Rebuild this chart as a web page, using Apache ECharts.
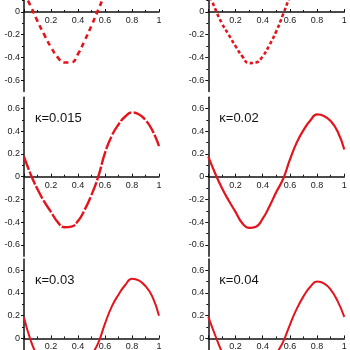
<!DOCTYPE html>
<html>
<head>
<meta charset="utf-8">
<script src="https://cdn.jsdelivr.net/npm/echarts@6/dist/echarts.min.js"></script>
<style>
  html, body { margin: 0; padding: 0; background: #fff; }
  #chart-container { width: 350px; height: 350px; }
</style>
</head>
<body>
<div id="chart-container"></div>
<script>
const xValues = [0, 0.05, 0.1, 0.15, 0.2, 0.25, 0.3, 0.35, 0.4, 0.45, 0.5,
  0.55, 0.6, 0.65, 0.7, 0.75, 0.8, 0.85, 0.9, 0.95, 1];

const kappaLabels = ["κ=0.005", "κ=0.01", "κ=0.015", "κ=0.02", "κ=0.03", "κ=0.04"];

const yK005 = [0.17, 0.05, -0.08, -0.2, -0.31, -0.4, -0.445, -0.445, -0.37, -0.25, -0.12,
  0.02, 0.16, 0.3, 0.42, 0.52, 0.57, 0.55, 0.48, 0.39, 0.28];
const yK01 = [0.18, 0.03, -0.1, -0.2, -0.3, -0.39, -0.45, -0.445, -0.39, -0.29, -0.17,
  -0.02, 0.14, 0.3, 0.43, 0.52, 0.56, 0.54, 0.47, 0.37, 0.26];
const yK015 = [0.176, 0.02, -0.11, -0.22, -0.31, -0.4, -0.445, -0.44, -0.39, -0.29, -0.16,
  0.0, 0.21, 0.36, 0.46, 0.53, 0.565, 0.55, 0.5, 0.41, 0.27];
const yK02 = [0.176, 0.03, -0.1, -0.21, -0.31, -0.41, -0.45, -0.44, -0.37, -0.26, -0.135,
  -0.02, 0.15, 0.3, 0.41, 0.495, 0.548, 0.535, 0.49, 0.4, 0.24];
const yK03 = [0.185, -0.02, -0.16, -0.27, -0.36, -0.42, -0.445, -0.43, -0.37, -0.27, -0.15,
  -0.04, 0.13, 0.28, 0.385, 0.47, 0.525, 0.51, 0.46, 0.37, 0.2];
const yK04 = [0.19, 0.03, -0.12, -0.25, -0.35, -0.41, -0.44, -0.43, -0.37, -0.27, -0.14,
  -0.03, 0.12, 0.26, 0.37, 0.455, 0.5, 0.485, 0.43, 0.33, 0.19];

const yTickLabels = [-0.6, -0.4, -0.2, 0, 0.2, 0.4, 0.6];
const yMinorTicks = [-0.5, -0.3, -0.1, 0.1, 0.3, 0.5];
const xTickLabels = [0.2, 0.4, 0.6, 0.8, 1];

(() => {
  var dom = document.getElementById("chart-container");
  var chart = echarts.init(dom, null, { renderer: "canvas" });

  const red = "#e3141c";
  const axisColor = "#111";
  const labelFont = { fontSize: 9, color: "#222", fontFamily: "Liberation Sans, Arial, sans-serif" };

  // panel layout: 2 columns x 3 rows, top row partly above the picture
  const colLeft = [24, 208.3];
  const colWidth = [135, 136];
  const rowTop = [-67.5, 97.2, 258.9];
  const rowHeight = 159;
  const yMin = -0.7, yMax = 0.7;

  const panels = [
    { ys: yK005, col: 0, row: 0, dash: [5, 4], width: 2.6 },
    { ys: yK01, col: 1, row: 0, dash: [3.5, 2.5], width: 2.6 },
    { ys: yK015, col: 0, row: 1, dash: [14, 2], width: 2.4 },
    { ys: yK02, col: 1, row: 1, dash: "solid", width: 2.2 },
    { ys: yK03, col: 0, row: 2, dash: "solid", width: 2 },
    { ys: yK04, col: 1, row: 2, dash: "solid", width: 2 },
  ];

  const grid = [], xAxis = [], yAxis = [], series = [], title = [];

  panels.forEach((p, i) => {
    grid.push({
      left: colLeft[p.col],
      width: colWidth[p.col],
      top: rowTop[p.row],
      height: rowHeight,
      outerBoundsMode: "none",
    });
    xAxis.push({
      type: "value",
      gridIndex: i,
      position: "bottom",
      // lift the x axis from the grid bottom up to y = 0
      offset: -rowHeight * (0 - yMin) / (yMax - yMin),
      min: 0,
      max: 1,
      interval: 0.2,
      axisLine: { onZero: false, lineStyle: { color: axisColor, width: 1.5 } },
      axisTick: { inside: true, length: 3, lineStyle: { color: axisColor, width: 1 } },
      minorTick: { show: true, splitNumber: 2, length: 2, lineStyle: { color: axisColor, width: 1 } },
      axisLabel: {
        ...labelFont,
        margin: 4,
        customValues: xTickLabels,
        formatter: (v) => (v === 1 ? "1" : v.toFixed(1)),
      },
      splitLine: { show: false },
    });
    yAxis.push({
      type: "value",
      gridIndex: i,
      position: "left",
      min: yMin,
      max: yMax,
      axisLine: { onZero: false, lineStyle: { color: axisColor, width: 1.5 } },
      axisTick: { customValues: yTickLabels, length: 3, lineStyle: { color: axisColor, width: 1 } },
      axisLabel: {
        ...labelFont,
        margin: 4,
        customValues: yTickLabels,
        formatter: (v) => (v === 0 ? "0" : v.toFixed(1)),
      },
      splitLine: { show: false },
    });
    // second axis only for the small ticks between labels
    yAxis.push({
      type: "value",
      gridIndex: i,
      position: "left",
      offset: 0,
      min: yMin,
      max: yMax,
      axisLine: { show: false, onZero: false },
      axisTick: { customValues: yMinorTicks, length: 2, lineStyle: { color: axisColor, width: 1 } },
      axisLabel: { show: false },
      splitLine: { show: false },
    });
    series.push({
      name: kappaLabels[i],
      type: "line",
      xAxisIndex: i,
      yAxisIndex: 2 * i,
      smooth: true,
      showSymbol: false,
      silent: true,
      lineStyle: { color: red, width: p.width, type: p.dash },
      data: xValues.map((x, j) => [x, p.ys[j]]),
    });
    title.push({
      text: kappaLabels[i],
      left: colLeft[p.col] + 11,
      top: rowTop[p.row] + 15,
      padding: 0,
      textStyle: {
        fontSize: 13,
        fontWeight: "normal",
        color: "#111",
        fontFamily: "Liberation Sans, Arial, sans-serif",
      },
    });
  });

  const option = {
    backgroundColor: "#fff",
    animation: false,
    title,
    grid,
    xAxis,
    yAxis,
    series,
  };

  chart.setOption(option);
  window.addEventListener("resize", chart.resize);
})();
</script>
</body>
</html>
